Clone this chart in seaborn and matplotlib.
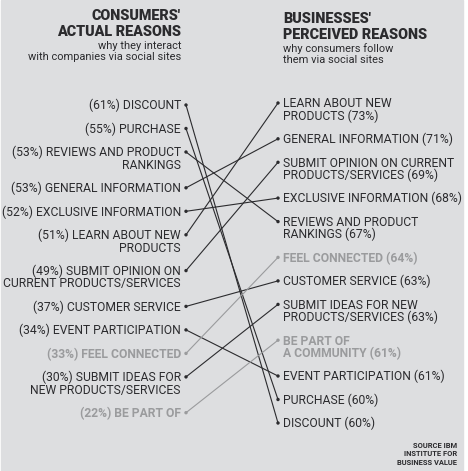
import numpy as np
import pandas as pd
import seaborn as sns
import matplotlib.pyplot as plt
from matplotlib.patches import Rectangle

sns.set_theme(style="white")
plt.rcParams['font.family'] = ['Roboto', 'DejaVu Sans']

# consumers' actual reasons (left column, top to bottom)
left_labels = ["DISCOUNT", "PURCHASE", "REVIEWS AND PRODUCT\nRANKINGS",
               "GENERAL INFORMATION", "EXCLUSIVE INFORMATION",
               "LEARN ABOUT NEW\nPRODUCTS",
               "SUBMIT OPINION ON\nCURRENT PRODUCTS/SERVICES",
               "CUSTOMER SERVICE", "EVENT PARTICIPATION", "FEEL CONNECTED",
               "SUBMIT IDEAS FOR\nNEW PRODUCTS/SERVICES", "BE PART OF"]
left_keys = ["discount", "purchase", "reviews", "general", "exclusive", "learn",
             "opinion", "customer", "event", "feel", "ideas", "community"]
left_pct = [61, 55, 53, 53, 52, 51, 49, 37, 34, 33, 30, 22]

# businesses' perceived reasons (right column, top to bottom)
right_labels = ["LEARN ABOUT NEW\nPRODUCTS", "GENERAL INFORMATION",
                "SUBMIT OPINION ON CURRENT\nPRODUCTS/SERVICES",
                "EXCLUSIVE INFORMATION", "REVIEWS AND PRODUCT\nRANKINGS",
                "FEEL CONNECTED", "CUSTOMER SERVICE",
                "SUBMIT IDEAS FOR NEW\nPRODUCTS/SERVICES",
                "BE PART OF\nA COMMUNITY", "EVENT PARTICIPATION",
                "PURCHASE", "DISCOUNT"]
right_keys = ["learn", "general", "opinion", "exclusive", "reviews", "feel",
              "customer", "ideas", "community", "event", "purchase", "discount"]
right_pct = [73, 71, 69, 68, 67, 64, 63, 63, 61, 61, 60, 60]

muted = ["feel", "community"]

BG = "#dddee0"
DARK = "#2b2b2e"
GREY = "#9a9b9d"
LEFT_X, RIGHT_X = 186, 278
LINE_H = 12.3


def stack_rows(labels, start):
    # row position from the number of text lines above
    ys, y = [], start
    for lab in labels:
        ys.append(y)
        y += 23.5 + LINE_H * lab.count("\n")
    return ys


def put_lines(ax, x, y0, text, step, **kw):
    # one text per line so the first line sits on y0
    for i, line in enumerate(text.split("\n")):
        ax.text(x, y0 + i * step, line, va="baseline", **kw)


left_y = stack_rows(left_labels, 105)
right_y = stack_rows(right_labels, 103)

rows = []
for k, y in zip(left_keys, left_y):
    rows.append({"key": k, "x": LEFT_X, "y": y})
for k, y in zip(right_keys, right_y):
    rows.append({"key": k, "x": RIGHT_X, "y": y})
df = pd.DataFrame(rows)
df["grp"] = np.where(df["key"].isin(muted), "muted", "main")

fig = plt.figure(figsize=(4.68, 4.71), dpi=100)
fig.patch.set_facecolor("white")
ax = fig.add_axes([0, 0, 1, 1])
ax.set_xlim(0, 468)
ax.set_ylim(471, 0)
ax.axis("off")
ax.add_patch(Rectangle((1, 0), 462, 471, color=BG, zorder=0))

sns.lineplot(data=df, x="x", y="y", units="key", estimator=None, hue="grp",
             palette={"main": DARK, "muted": GREY}, linewidth=0.8,
             legend=False, ax=ax, sort=False)
sns.scatterplot(data=df, x="x", y="y", hue="grp",
                palette={"main": DARK, "muted": GREY}, s=6, linewidth=0,
                legend=False, ax=ax, zorder=3)

fs = 8.7
for lab, p, y, k in zip(left_labels, left_pct, left_y, left_keys):
    muted_row = k in muted
    put_lines(ax, 181, y + 4.4, f"({p}%) {lab}", LINE_H, ha="right",
              fontsize=fs, color=GREY if muted_row else DARK,
              fontweight="bold" if muted_row else "normal")
for lab, p, y, k in zip(right_labels, right_pct, right_y, right_keys):
    muted_row = k in muted
    put_lines(ax, 283, y + 4.4, f"{lab} ({p}%)", LINE_H, ha="left",
              fontsize=fs, color=GREY if muted_row else DARK,
              fontweight="bold" if muted_row else "normal")

# headers
put_lines(ax, 181, 20.5, "CONSUMERS'\nACTUAL REASONS", 16, ha="right",
          fontsize=10.4, fontweight="black", color=DARK)
put_lines(ax, 181, 49, "why they interact\nwith companies via social sites",
          10.5, ha="right", fontsize=7.9, color=DARK)
put_lines(ax, 283, 23, "BUSINESSES'\nPERCEIVED REASONS", 16, ha="left",
          fontsize=10.4, fontweight="black", color=DARK)
put_lines(ax, 283, 52.5, "why consumers follow\nthem via social sites",
          10.5, ha="left", fontsize=7.9, color=DARK)

put_lines(ax, 457, 448, "SOURCE IBM\nINSTITUTE FOR\nBUSINESS VALUE", 8.5,
          ha="right", fontsize=5.4, fontweight="bold", color=DARK)

fig.savefig("out.png", dpi=100, facecolor=fig.get_facecolor())
